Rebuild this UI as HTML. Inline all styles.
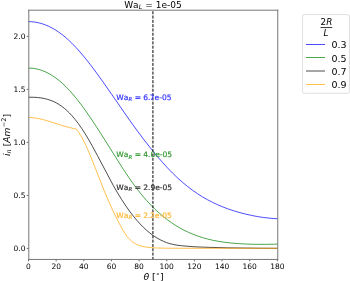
<!DOCTYPE html>
<html><head><meta charset="utf-8"><title>plot</title><style>
html,body{margin:0;padding:0;background:#fff;width:350px;height:281px;overflow:hidden}
svg{display:block}
</style></head><body>
<svg width="350" height="281" viewBox="0 0 350 281" version="1.1">
 <defs>
  <style type="text/css">*{stroke-linejoin: round; stroke-linecap: butt}</style>
 </defs>
 <g id="figure_1">
  <g id="patch_1">
   <path d="M 0 281 
L 350 281 
L 350 0 
L 0 0 
z
" style="fill: #ffffff"/>
  </g>
  <g id="axes_1">
   <g id="patch_2">
    <path d="M 28.5 259.5 
L 277.35 259.5 
L 277.35 10.35 
L 28.5 10.35 
z
" style="fill: #ffffff"/>
   </g>
   <g id="matplotlib.axis_1">
    <g id="xtick_1">
     <g id="line2d_1">
      <g>
       <path d="M 0 0 L 0 1.8" transform="translate(28.5 259.5)" style="stroke: #000000; stroke-width: 0.6"/>
      </g>
     </g>
     <g id="text_1">
      <text style="font-size: 7.5px; font-family: 'DejaVu Sans', sans-serif; text-anchor: middle" x="28.5" y="268.798828" transform="rotate(-0 28.5 268.798828)">0</text>
     </g>
    </g>
    <g id="xtick_2">
     <g id="line2d_2">
      <g>
       <path d="M 0 0 L 0 1.8" transform="translate(56.15 259.5)" style="stroke: #000000; stroke-width: 0.6"/>
      </g>
     </g>
     <g id="text_2">
      <text style="font-size: 7.5px; font-family: 'DejaVu Sans', sans-serif; text-anchor: middle" x="56.15" y="268.798828" transform="rotate(-0 56.15 268.798828)">20</text>
     </g>
    </g>
    <g id="xtick_3">
     <g id="line2d_3">
      <g>
       <path d="M 0 0 L 0 1.8" transform="translate(83.8 259.5)" style="stroke: #000000; stroke-width: 0.6"/>
      </g>
     </g>
     <g id="text_3">
      <text style="font-size: 7.5px; font-family: 'DejaVu Sans', sans-serif; text-anchor: middle" x="83.8" y="268.798828" transform="rotate(-0 83.8 268.798828)">40</text>
     </g>
    </g>
    <g id="xtick_4">
     <g id="line2d_4">
      <g>
       <path d="M 0 0 L 0 1.8" transform="translate(111.45 259.5)" style="stroke: #000000; stroke-width: 0.6"/>
      </g>
     </g>
     <g id="text_4">
      <text style="font-size: 7.5px; font-family: 'DejaVu Sans', sans-serif; text-anchor: middle" x="111.45" y="268.798828" transform="rotate(-0 111.45 268.798828)">60</text>
     </g>
    </g>
    <g id="xtick_5">
     <g id="line2d_5">
      <g>
       <path d="M 0 0 L 0 1.8" transform="translate(139.1 259.5)" style="stroke: #000000; stroke-width: 0.6"/>
      </g>
     </g>
     <g id="text_5">
      <text style="font-size: 7.5px; font-family: 'DejaVu Sans', sans-serif; text-anchor: middle" x="139.1" y="268.798828" transform="rotate(-0 139.1 268.798828)">80</text>
     </g>
    </g>
    <g id="xtick_6">
     <g id="line2d_6">
      <g>
       <path d="M 0 0 L 0 1.8" transform="translate(166.75 259.5)" style="stroke: #000000; stroke-width: 0.6"/>
      </g>
     </g>
     <g id="text_6">
      <text style="font-size: 7.5px; font-family: 'DejaVu Sans', sans-serif; text-anchor: middle" x="166.75" y="268.798828" transform="rotate(-0 166.75 268.798828)">100</text>
     </g>
    </g>
    <g id="xtick_7">
     <g id="line2d_7">
      <g>
       <path d="M 0 0 L 0 1.8" transform="translate(194.4 259.5)" style="stroke: #000000; stroke-width: 0.6"/>
      </g>
     </g>
     <g id="text_7">
      <text style="font-size: 7.5px; font-family: 'DejaVu Sans', sans-serif; text-anchor: middle" x="194.4" y="268.798828" transform="rotate(-0 194.4 268.798828)">120</text>
     </g>
    </g>
    <g id="xtick_8">
     <g id="line2d_8">
      <g>
       <path d="M 0 0 L 0 1.8" transform="translate(222.05 259.5)" style="stroke: #000000; stroke-width: 0.6"/>
      </g>
     </g>
     <g id="text_8">
      <text style="font-size: 7.5px; font-family: 'DejaVu Sans', sans-serif; text-anchor: middle" x="222.05" y="268.798828" transform="rotate(-0 222.05 268.798828)">140</text>
     </g>
    </g>
    <g id="xtick_9">
     <g id="line2d_9">
      <g>
       <path d="M 0 0 L 0 1.8" transform="translate(249.7 259.5)" style="stroke: #000000; stroke-width: 0.6"/>
      </g>
     </g>
     <g id="text_9">
      <text style="font-size: 7.5px; font-family: 'DejaVu Sans', sans-serif; text-anchor: middle" x="249.7" y="268.798828" transform="rotate(-0 249.7 268.798828)">160</text>
     </g>
    </g>
    <g id="xtick_10">
     <g id="line2d_10">
      <g>
       <path d="M 0 0 L 0 1.8" transform="translate(277.35 259.5)" style="stroke: #000000; stroke-width: 0.6"/>
      </g>
     </g>
     <g id="text_10">
      <text style="font-size: 7.5px; font-family: 'DejaVu Sans', sans-serif; text-anchor: middle" x="277.35" y="268.798828" transform="rotate(-0 277.35 268.798828)">180</text>
     </g>
    </g>
    <g id="text_11">
     <g transform="translate(143.4415 279.925141)">
      <text>
       <tspan x="0" y="-0.09375" style="font-style: oblique; font-size: 9.3px; font-family: 'DejaVu Sans', sans-serif">θ</tspan>
       <tspan x="5.659302" y="-0.09375" style="font-size: 9.3px; font-family: 'DejaVu Sans', sans-serif"> </tspan>
       <tspan x="8.599609" y="-0.09375" style="font-size: 9.3px; font-family: 'DejaVu Sans', sans-serif">[</tspan>
       <tspan x="16.593799" y="-0.09375" style="font-size: 9.3px; font-family: 'DejaVu Sans', sans-serif">]</tspan>
       <tspan x="12.294507" y="-3.539062" style="font-size: 6.51px; font-family: 'DejaVu Sans', sans-serif">∘</tspan>
      </text>
     </g>
    </g>
   </g>
   <g id="matplotlib.axis_2">
    <g id="ytick_1">
     <g id="line2d_11">
      <g>
       <path d="M 0 0 L -1.8 0" transform="translate(28.5 248.4)" style="stroke: #000000; stroke-width: 0.6"/>
      </g>
     </g>
     <g id="text_12">
      <text style="font-size: 7.5px; font-family: 'DejaVu Sans', sans-serif; text-anchor: end" x="25.5" y="251.249414" transform="rotate(-0 25.5 251.249414)">0.0</text>
     </g>
    </g>
    <g id="ytick_2">
     <g id="line2d_12">
      <g>
       <path d="M 0 0 L -1.8 0" transform="translate(28.5 195.4)" style="stroke: #000000; stroke-width: 0.6"/>
      </g>
     </g>
     <g id="text_13">
      <text style="font-size: 7.5px; font-family: 'DejaVu Sans', sans-serif; text-anchor: end" x="25.5" y="198.249414" transform="rotate(-0 25.5 198.249414)">0.5</text>
     </g>
    </g>
    <g id="ytick_3">
     <g id="line2d_13">
      <g>
       <path d="M 0 0 L -1.8 0" transform="translate(28.5 142.4)" style="stroke: #000000; stroke-width: 0.6"/>
      </g>
     </g>
     <g id="text_14">
      <text style="font-size: 7.5px; font-family: 'DejaVu Sans', sans-serif; text-anchor: end" x="25.5" y="145.249414" transform="rotate(-0 25.5 145.249414)">1.0</text>
     </g>
    </g>
    <g id="ytick_4">
     <g id="line2d_14">
      <g>
       <path d="M 0 0 L -1.8 0" transform="translate(28.5 89.4)" style="stroke: #000000; stroke-width: 0.6"/>
      </g>
     </g>
     <g id="text_15">
      <text style="font-size: 7.5px; font-family: 'DejaVu Sans', sans-serif; text-anchor: end" x="25.5" y="92.249414" transform="rotate(-0 25.5 92.249414)">1.5</text>
     </g>
    </g>
    <g id="ytick_5">
     <g id="line2d_15">
      <g>
       <path d="M 0 0 L -1.8 0" transform="translate(28.5 36.4)" style="stroke: #000000; stroke-width: 0.6"/>
      </g>
     </g>
     <g id="text_16">
      <text style="font-size: 7.5px; font-family: 'DejaVu Sans', sans-serif; text-anchor: end" x="25.5" y="39.249414" transform="rotate(-0 25.5 39.249414)">2.0</text>
     </g>
    </g>
    <g id="text_17">
     <g transform="translate(10.569742 156.0615) rotate(-90)">
      <text>
       <tspan x="0" y="-0.873438" style="font-style: oblique; font-size: 9.15px; font-family: 'DejaVu Sans', sans-serif">i</tspan>
       <tspan x="13.29021" y="-0.873438" style="font-style: oblique; font-size: 9.15px; font-family: 'DejaVu Sans', sans-serif">A</tspan>
       <tspan x="19.532458" y="-0.873438" style="font-style: oblique; font-size: 9.15px; font-family: 'DejaVu Sans', sans-serif">m</tspan>
       <tspan x="2.535217" y="0.603125" style="font-style: oblique; font-size: 6.405px; font-family: 'DejaVu Sans', sans-serif">n</tspan>
       <tspan x="6.829639" y="-0.873438" style="font-size: 9.15px; font-family: 'DejaVu Sans', sans-serif"> </tspan>
       <tspan x="9.730212" y="-0.873438" style="font-size: 9.15px; font-family: 'DejaVu Sans', sans-serif">[</tspan>
       <tspan x="38.502809" y="-0.873438" style="font-size: 9.15px; font-family: 'DejaVu Sans', sans-serif">]</tspan>
       <tspan x="28.840767" y="-4.31875" style="font-size: 6.405px; font-family: 'DejaVu Sans', sans-serif">−</tspan>
       <tspan x="34.192793" y="-4.31875" style="font-size: 6.405px; font-family: 'DejaVu Sans', sans-serif">2</tspan>
      </text>
     </g>
    </g>
   </g>
   <g id="line2d_16">
    <path d="M 28.5 21.596963 
L 31.829097 21.730867 
L 35.158194 22.118475 
L 38.487291 22.759832 
L 41.816388 23.654984 
L 45.145485 24.803977 
L 48.474582 26.206855 
L 51.803679 27.863663 
L 55.132776 29.774447 
L 58.461873 31.939252 
L 61.79097 34.358124 
L 65.120067 37.031107 
L 68.449164 39.95824 
L 71.778261 43.135246 
L 75.939632 47.433498 
L 80.101003 52.062659 
L 85.094649 58.005544 
L 90.088294 64.314897 
L 95.914214 72.058905 
L 102.572408 81.297674 
L 111.727425 94.425904 
L 130.037458 120.783913 
L 137.527926 131.138417 
L 144.18612 140.013574 
L 150.844314 148.523192 
L 156.670234 155.626961 
L 162.496154 162.373637 
L 167.489799 167.844969 
L 172.483445 173.004773 
L 177.47709 177.830357 
L 182.470736 182.300733 
L 187.464381 186.41726 
L 192.458027 190.196981 
L 197.451672 193.657265 
L 202.445318 196.815479 
L 207.438963 199.688991 
L 212.432609 202.295168 
L 217.426254 204.651379 
L 222.4199 206.774991 
L 227.413545 208.683373 
L 233.239465 210.660961 
L 239.065385 212.396816 
L 244.891304 213.918516 
L 251.549498 215.424161 
L 257.375418 216.53402 
L 263.201338 217.438122 
L 269.027258 218.124986 
L 274.853177 218.583129 
L 277.35 218.706615 
L 277.35 218.706615 
" clip-path="url(#p7473f6692e)" style="fill: none; stroke: #0000ff; stroke-opacity: 0.7; stroke-linecap: square"/>
   </g>
   <g id="line2d_17">
    <path d="M 28.5 68.100256 
L 30.996823 68.166046 
L 33.493645 68.402365 
L 35.990468 68.808669 
L 39.319565 69.613882 
L 42.648662 70.719028 
L 45.977759 72.122812 
L 49.306856 73.823942 
L 52.635953 75.821126 
L 55.96505 78.113072 
L 59.294147 80.698487 
L 62.623244 83.576078 
L 65.952341 86.744553 
L 69.281438 90.201903 
L 72.610535 93.935177 
L 76.771906 98.957039 
L 80.933278 104.33408 
L 85.926923 111.195677 
L 90.920569 118.434432 
L 96.746488 127.258604 
L 104.236957 139.024575 
L 123.379264 169.381782 
L 129.205184 178.088872 
L 134.198829 185.140114 
L 138.360201 190.651292 
L 142.521572 195.803224 
L 146.682943 200.60677 
L 150.844314 205.074512 
L 155.005686 209.219032 
L 159.167057 213.052911 
L 163.328428 216.588732 
L 167.489799 219.839076 
L 171.651171 222.816526 
L 175.812542 225.533664 
L 179.973913 228.003071 
L 184.135284 230.23733 
L 188.296656 232.249023 
L 192.458027 234.050731 
L 197.451672 235.953317 
L 202.445318 237.593385 
L 207.438963 238.992676 
L 212.432609 240.172934 
L 218.258528 241.302071 
L 224.084448 242.197196 
L 230.742642 242.977938 
L 238.23311 243.608577 
L 246.555853 244.063499 
L 254.878595 244.297386 
L 264.033612 244.3432 
L 274.853177 244.176669 
L 277.35 244.112222 
L 277.35 244.112222 
" clip-path="url(#p7473f6692e)" style="fill: none; stroke: #008000; stroke-opacity: 0.7; stroke-linecap: square"/>
   </g>
   <g id="line2d_18">
    <path d="M 28.5 97.219784 
L 33.493645 97.261166 
L 37.655017 97.518947 
L 40.984114 97.916954 
L 44.313211 98.52058 
L 47.642308 99.362269 
L 50.971405 100.474463 
L 54.300502 101.889607 
L 56.797324 103.169291 
L 59.294147 104.65132 
L 61.79097 106.349382 
L 64.287793 108.277162 
L 66.784615 110.447324 
L 69.281438 112.86248 
L 71.778261 115.519544 
L 75.107358 119.433156 
L 78.436455 123.763763 
L 81.765552 128.503899 
L 85.094649 133.646098 
L 88.423746 139.1757 
L 92.585117 146.538526 
L 97.578763 155.833605 
L 113.391973 185.674621 
L 117.553344 192.903615 
L 121.714716 199.671087 
L 125.876087 205.972448 
L 130.037458 211.804294 
L 133.366555 216.129431 
L 136.695652 220.150158 
L 140.024749 223.864729 
L 143.353846 227.271402 
L 146.682943 230.368435 
L 150.01204 233.154084 
L 153.341137 235.626623 
L 156.670234 237.7903 
L 159.999331 239.664181 
L 163.328428 241.269592 
L 166.657525 242.627857 
L 169.986622 243.760301 
L 170.818896 243.846531 
L 174.147993 244.642002 
L 177.47709 245.243542 
L 181.638462 245.755239 
L 194.122575 246.773177 
L 203.277592 247.162781 
L 227.413545 247.849283 
L 258.207692 248.199149 
L 277.35 248.302864 
L 277.35 248.302864 
" clip-path="url(#p7473f6692e)" style="fill: none; stroke: #000000; stroke-opacity: 0.7; stroke-linecap: square"/>
   </g>
   <g id="line2d_19">
    <path d="M 28.5 117.558346 
L 31.733898 117.653445 
L 34.967797 117.978261 
L 38.201695 118.502228 
L 42.244068 119.389911 
L 47.094915 120.716359 
L 53.562712 122.756078 
L 64.881356 126.373404 
L 69.732203 127.670461 
L 73.774576 128.52403 
L 76.2 128.909795 
L 77.208271 130.308535 
L 78.720677 132.325116 
L 80.737218 135.462119 
L 82.753759 139.057867 
L 85.274436 144.108725 
L 87.795113 149.671129 
L 90.819925 156.860709 
L 95.357143 168.287372 
L 104.431579 191.288237 
L 108.464662 200.918797 
L 111.993609 208.784963 
L 115.522556 216.091341 
L 119.555639 223.944891 
L 122.580451 229.474039 
L 125.101128 233.61218 
L 127.117669 236.473231 
L 128.630075 238.299203 
L 130.646617 240.333173 
L 132.663158 241.983553 
L 134.679699 243.331444 
L 136.696241 244.437146 
L 138.712782 245.30055 
L 141.233459 246.113708 
L 144.258271 246.80408 
L 147.787218 247.339181 
L 151.820301 247.720694 
L 157.365789 248.011082 
L 165.93609 248.201408 
L 182.068421 248.286971 
L 260.209398 248.299999 
L 277.35 248.3 
L 277.35 248.3 
" clip-path="url(#p7473f6692e)" style="fill: none; stroke: #ffa500; stroke-opacity: 0.7; stroke-linecap: square"/>
   </g>
   <g id="line2d_20">
    <path d="M 152.925 259.5 
L 152.925 10.35 
" clip-path="url(#p7473f6692e)" style="fill: none; stroke-dasharray: 3.01,1.3; stroke-dashoffset: 0.4; stroke: #000000"/>
   </g>
   <g id="text_18">
    <g style="fill: #3333ff" transform="translate(116.3 99.9)">
     <text>
      <tspan x="0" y="-0.0625" style="font-size: 7.55px; font-family: 'DejaVu Sans', sans-serif; fill: #3333ff; stroke: #3333ff; stroke-width: 0.2; stroke-linejoin: round">W</tspan>
      <tspan x="7.415771" y="-0.0625" style="font-size: 7.55px; font-family: 'DejaVu Sans', sans-serif; fill: #3333ff; stroke: #3333ff; stroke-width: 0.2; stroke-linejoin: round">a</tspan>
      <tspan x="15.954858" y="-0.0625" style="font-size: 7.55px; font-family: 'DejaVu Sans', sans-serif; fill: #3333ff; stroke: #3333ff; stroke-width: 0.2; stroke-linejoin: round"> </tspan>
      <tspan x="18.338892" y="-0.0625" style="font-size: 7.55px; font-family: 'DejaVu Sans', sans-serif; fill: #3333ff; stroke: #3333ff; stroke-width: 0.2; stroke-linejoin: round">=</tspan>
      <tspan x="24.623071" y="-0.0625" style="font-size: 7.55px; font-family: 'DejaVu Sans', sans-serif; fill: #3333ff; stroke: #3333ff; stroke-width: 0.2; stroke-linejoin: round"> </tspan>
      <tspan x="27.007104" y="-0.0625" style="font-size: 7.55px; font-family: 'DejaVu Sans', sans-serif; fill: #3333ff; stroke: #3333ff; stroke-width: 0.2; stroke-linejoin: round">6</tspan>
      <tspan x="31.778833" y="-0.0625" style="font-size: 7.55px; font-family: 'DejaVu Sans', sans-serif; fill: #3333ff; stroke: #3333ff; stroke-width: 0.2; stroke-linejoin: round">.</tspan>
      <tspan x="33.537866" y="-0.0625" style="font-size: 7.55px; font-family: 'DejaVu Sans', sans-serif; fill: #3333ff; stroke: #3333ff; stroke-width: 0.2; stroke-linejoin: round">7</tspan>
      <tspan x="38.309595" y="-0.0625" style="font-size: 7.55px; font-family: 'DejaVu Sans', sans-serif; fill: #3333ff; stroke: #3333ff; stroke-width: 0.2; stroke-linejoin: round">e</tspan>
      <tspan x="42.923853" y="-0.0625" style="font-size: 7.55px; font-family: 'DejaVu Sans', sans-serif; fill: #3333ff; stroke: #3333ff; stroke-width: 0.2; stroke-linejoin: round">-</tspan>
      <tspan x="45.630151" y="-0.0625" style="font-size: 7.55px; font-family: 'DejaVu Sans', sans-serif; fill: #3333ff; stroke: #3333ff; stroke-width: 0.2; stroke-linejoin: round">0</tspan>
      <tspan x="50.40188" y="-0.0625" style="font-size: 7.55px; font-family: 'DejaVu Sans', sans-serif; fill: #3333ff; stroke: #3333ff; stroke-width: 0.2; stroke-linejoin: round">5</tspan>
      <tspan x="12.088281" y="1.25" style="font-style: oblique; font-size: 5.285px; font-family: 'DejaVu Sans', sans-serif; fill: #3333ff; stroke: #3333ff; stroke-width: 0.2; stroke-linejoin: round">R</tspan>
     </text>
    </g>
   </g>
   <g id="text_19">
    <g style="fill: #339933" transform="translate(116.3 157.3)">
     <text>
      <tspan x="0" y="-0.0625" style="font-size: 7.55px; font-family: 'DejaVu Sans', sans-serif; fill: #339933; stroke: #339933; stroke-width: 0.2; stroke-linejoin: round">W</tspan>
      <tspan x="7.415771" y="-0.0625" style="font-size: 7.55px; font-family: 'DejaVu Sans', sans-serif; fill: #339933; stroke: #339933; stroke-width: 0.2; stroke-linejoin: round">a</tspan>
      <tspan x="15.954858" y="-0.0625" style="font-size: 7.55px; font-family: 'DejaVu Sans', sans-serif; fill: #339933; stroke: #339933; stroke-width: 0.2; stroke-linejoin: round"> </tspan>
      <tspan x="18.338892" y="-0.0625" style="font-size: 7.55px; font-family: 'DejaVu Sans', sans-serif; fill: #339933; stroke: #339933; stroke-width: 0.2; stroke-linejoin: round">=</tspan>
      <tspan x="24.623071" y="-0.0625" style="font-size: 7.55px; font-family: 'DejaVu Sans', sans-serif; fill: #339933; stroke: #339933; stroke-width: 0.2; stroke-linejoin: round"> </tspan>
      <tspan x="27.007104" y="-0.0625" style="font-size: 7.55px; font-family: 'DejaVu Sans', sans-serif; fill: #339933; stroke: #339933; stroke-width: 0.2; stroke-linejoin: round">4</tspan>
      <tspan x="31.778833" y="-0.0625" style="font-size: 7.55px; font-family: 'DejaVu Sans', sans-serif; fill: #339933; stroke: #339933; stroke-width: 0.2; stroke-linejoin: round">.</tspan>
      <tspan x="34.162866" y="-0.0625" style="font-size: 7.55px; font-family: 'DejaVu Sans', sans-serif; fill: #339933; stroke: #339933; stroke-width: 0.2; stroke-linejoin: round">0</tspan>
      <tspan x="38.934595" y="-0.0625" style="font-size: 7.55px; font-family: 'DejaVu Sans', sans-serif; fill: #339933; stroke: #339933; stroke-width: 0.2; stroke-linejoin: round">e</tspan>
      <tspan x="43.548853" y="-0.0625" style="font-size: 7.55px; font-family: 'DejaVu Sans', sans-serif; fill: #339933; stroke: #339933; stroke-width: 0.2; stroke-linejoin: round">-</tspan>
      <tspan x="46.255151" y="-0.0625" style="font-size: 7.55px; font-family: 'DejaVu Sans', sans-serif; fill: #339933; stroke: #339933; stroke-width: 0.2; stroke-linejoin: round">0</tspan>
      <tspan x="51.02688" y="-0.0625" style="font-size: 7.55px; font-family: 'DejaVu Sans', sans-serif; fill: #339933; stroke: #339933; stroke-width: 0.2; stroke-linejoin: round">5</tspan>
      <tspan x="12.088281" y="1.25" style="font-style: oblique; font-size: 5.285px; font-family: 'DejaVu Sans', sans-serif; fill: #339933; stroke: #339933; stroke-width: 0.2; stroke-linejoin: round">R</tspan>
     </text>
    </g>
   </g>
   <g id="text_20">
    <g style="fill: #333333" transform="translate(116.3 189.6)">
     <text>
      <tspan x="0" y="-0.0625" style="font-size: 7.55px; font-family: 'DejaVu Sans', sans-serif; fill: #333333; stroke: #333333; stroke-width: 0.2; stroke-linejoin: round">W</tspan>
      <tspan x="7.415771" y="-0.0625" style="font-size: 7.55px; font-family: 'DejaVu Sans', sans-serif; fill: #333333; stroke: #333333; stroke-width: 0.2; stroke-linejoin: round">a</tspan>
      <tspan x="15.954858" y="-0.0625" style="font-size: 7.55px; font-family: 'DejaVu Sans', sans-serif; fill: #333333; stroke: #333333; stroke-width: 0.2; stroke-linejoin: round"> </tspan>
      <tspan x="18.338892" y="-0.0625" style="font-size: 7.55px; font-family: 'DejaVu Sans', sans-serif; fill: #333333; stroke: #333333; stroke-width: 0.2; stroke-linejoin: round">=</tspan>
      <tspan x="24.623071" y="-0.0625" style="font-size: 7.55px; font-family: 'DejaVu Sans', sans-serif; fill: #333333; stroke: #333333; stroke-width: 0.2; stroke-linejoin: round"> </tspan>
      <tspan x="27.007104" y="-0.0625" style="font-size: 7.55px; font-family: 'DejaVu Sans', sans-serif; fill: #333333; stroke: #333333; stroke-width: 0.2; stroke-linejoin: round">2</tspan>
      <tspan x="31.778833" y="-0.0625" style="font-size: 7.55px; font-family: 'DejaVu Sans', sans-serif; fill: #333333; stroke: #333333; stroke-width: 0.2; stroke-linejoin: round">.</tspan>
      <tspan x="34.162866" y="-0.0625" style="font-size: 7.55px; font-family: 'DejaVu Sans', sans-serif; fill: #333333; stroke: #333333; stroke-width: 0.2; stroke-linejoin: round">9</tspan>
      <tspan x="38.934595" y="-0.0625" style="font-size: 7.55px; font-family: 'DejaVu Sans', sans-serif; fill: #333333; stroke: #333333; stroke-width: 0.2; stroke-linejoin: round">e</tspan>
      <tspan x="43.548853" y="-0.0625" style="font-size: 7.55px; font-family: 'DejaVu Sans', sans-serif; fill: #333333; stroke: #333333; stroke-width: 0.2; stroke-linejoin: round">-</tspan>
      <tspan x="46.255151" y="-0.0625" style="font-size: 7.55px; font-family: 'DejaVu Sans', sans-serif; fill: #333333; stroke: #333333; stroke-width: 0.2; stroke-linejoin: round">0</tspan>
      <tspan x="51.02688" y="-0.0625" style="font-size: 7.55px; font-family: 'DejaVu Sans', sans-serif; fill: #333333; stroke: #333333; stroke-width: 0.2; stroke-linejoin: round">5</tspan>
      <tspan x="12.088281" y="1.25" style="font-style: oblique; font-size: 5.285px; font-family: 'DejaVu Sans', sans-serif; fill: #333333; stroke: #333333; stroke-width: 0.2; stroke-linejoin: round">R</tspan>
     </text>
    </g>
   </g>
   <g id="text_21">
    <g style="fill: #ffb733" transform="translate(116.3 218)">
     <text>
      <tspan x="0" y="-0.0625" style="font-size: 7.55px; font-family: 'DejaVu Sans', sans-serif; fill: #ffb733; stroke: #ffb733; stroke-width: 0.2; stroke-linejoin: round">W</tspan>
      <tspan x="7.415771" y="-0.0625" style="font-size: 7.55px; font-family: 'DejaVu Sans', sans-serif; fill: #ffb733; stroke: #ffb733; stroke-width: 0.2; stroke-linejoin: round">a</tspan>
      <tspan x="15.954858" y="-0.0625" style="font-size: 7.55px; font-family: 'DejaVu Sans', sans-serif; fill: #ffb733; stroke: #ffb733; stroke-width: 0.2; stroke-linejoin: round"> </tspan>
      <tspan x="18.338892" y="-0.0625" style="font-size: 7.55px; font-family: 'DejaVu Sans', sans-serif; fill: #ffb733; stroke: #ffb733; stroke-width: 0.2; stroke-linejoin: round">=</tspan>
      <tspan x="24.623071" y="-0.0625" style="font-size: 7.55px; font-family: 'DejaVu Sans', sans-serif; fill: #ffb733; stroke: #ffb733; stroke-width: 0.2; stroke-linejoin: round"> </tspan>
      <tspan x="27.007104" y="-0.0625" style="font-size: 7.55px; font-family: 'DejaVu Sans', sans-serif; fill: #ffb733; stroke: #ffb733; stroke-width: 0.2; stroke-linejoin: round">2</tspan>
      <tspan x="31.778833" y="-0.0625" style="font-size: 7.55px; font-family: 'DejaVu Sans', sans-serif; fill: #ffb733; stroke: #ffb733; stroke-width: 0.2; stroke-linejoin: round">.</tspan>
      <tspan x="33.787866" y="-0.0625" style="font-size: 7.55px; font-family: 'DejaVu Sans', sans-serif; fill: #ffb733; stroke: #ffb733; stroke-width: 0.2; stroke-linejoin: round">2</tspan>
      <tspan x="38.559595" y="-0.0625" style="font-size: 7.55px; font-family: 'DejaVu Sans', sans-serif; fill: #ffb733; stroke: #ffb733; stroke-width: 0.2; stroke-linejoin: round">e</tspan>
      <tspan x="43.173853" y="-0.0625" style="font-size: 7.55px; font-family: 'DejaVu Sans', sans-serif; fill: #ffb733; stroke: #ffb733; stroke-width: 0.2; stroke-linejoin: round">-</tspan>
      <tspan x="45.880151" y="-0.0625" style="font-size: 7.55px; font-family: 'DejaVu Sans', sans-serif; fill: #ffb733; stroke: #ffb733; stroke-width: 0.2; stroke-linejoin: round">0</tspan>
      <tspan x="50.65188" y="-0.0625" style="font-size: 7.55px; font-family: 'DejaVu Sans', sans-serif; fill: #ffb733; stroke: #ffb733; stroke-width: 0.2; stroke-linejoin: round">5</tspan>
      <tspan x="12.088281" y="1.25" style="font-style: oblique; font-size: 5.285px; font-family: 'DejaVu Sans', sans-serif; fill: #ffb733; stroke: #ffb733; stroke-width: 0.2; stroke-linejoin: round">R</tspan>
     </text>
    </g>
   </g>
   <g id="text_22">
    <g transform="translate(124.17 7.95)">
     <text>
      <tspan x="0" y="-0.3125" style="font-size: 9px; font-family: 'DejaVu Sans', sans-serif">W</tspan>
      <tspan x="8.898926" y="-0.3125" style="font-size: 9px; font-family: 'DejaVu Sans', sans-serif">a</tspan>
      <tspan x="18.256201" y="-0.3125" style="font-size: 9px; font-family: 'DejaVu Sans', sans-serif"> </tspan>
      <tspan x="21.117041" y="-0.3125" style="font-size: 9px; font-family: 'DejaVu Sans', sans-serif">=</tspan>
      <tspan x="28.658057" y="-0.3125" style="font-size: 9px; font-family: 'DejaVu Sans', sans-serif"> </tspan>
      <tspan x="31.518896" y="-0.3125" style="font-size: 9px; font-family: 'DejaVu Sans', sans-serif">1</tspan>
      <tspan x="37.244971" y="-0.3125" style="font-size: 9px; font-family: 'DejaVu Sans', sans-serif">e</tspan>
      <tspan x="42.78208" y="-0.3125" style="font-size: 9px; font-family: 'DejaVu Sans', sans-serif">-</tspan>
      <tspan x="46.029639" y="-0.3125" style="font-size: 9px; font-family: 'DejaVu Sans', sans-serif">0</tspan>
      <tspan x="51.755713" y="-0.3125" style="font-size: 9px; font-family: 'DejaVu Sans', sans-serif">5</tspan>
      <tspan x="14.500195" y="1.164062" style="font-style: oblique; font-size: 6.3px; font-family: 'DejaVu Sans', sans-serif">L</tspan>
     </text>
    </g>
   </g>
  </g>
  <g id="patch_3">
   <path d="M 304.2 93.3 
L 347.9 93.3 
Q 349.5 93.3 349.5 91.7 
L 349.5 16.2 
Q 349.5 14.6 347.9 14.6 
L 304.2 14.6 
Q 302.6 14.6 302.6 16.2 
L 302.6 91.7 
Q 302.6 93.3 304.2 93.3 
z
" style="fill: #ffffff; fill-opacity: 0.8; stroke: #cccccc; stroke-opacity: 0.8; stroke-width: 0.75; stroke-linejoin: miter"/>
  </g>
  <g id="line2d_21">
   <path d="M 306.5 44.5 
L 324.5 44.5 
" style="fill: none; stroke: #0000ff; stroke-opacity: 0.7; stroke-linecap: square"/>
  </g>
  <g id="line2d_22">
   <path d="M 306.5 57.5 
L 324.5 57.5 
" style="fill: none; stroke: #008000; stroke-opacity: 0.7; stroke-linecap: square"/>
  </g>
  <g id="line2d_23">
   <path d="M 306.5 71 
L 324.5 71 
" style="fill: none; stroke: #000000; stroke-opacity: 0.7; stroke-linecap: square"/>
  </g>
  <g id="line2d_24">
   <path d="M 306.5 84.5 
L 324.5 84.5 
" style="fill: none; stroke: #ffa500; stroke-opacity: 0.7; stroke-linecap: square"/>
  </g>
  <g id="text_23">
   <text style="font-size: 9.5px; font-family: 'DejaVu Sans', sans-serif; text-anchor: start" x="331.473" y="48.25" transform="rotate(-0 331.473 48.25)">0.3</text>
  </g>
  <g id="text_24">
   <text style="font-size: 9.5px; font-family: 'DejaVu Sans', sans-serif; text-anchor: start" x="331.473" y="61.65" transform="rotate(-0 331.473 61.65)">0.5</text>
  </g>
  <g id="text_25">
   <text style="font-size: 9.5px; font-family: 'DejaVu Sans', sans-serif; text-anchor: start" x="331.473" y="74.95" transform="rotate(-0 331.473 74.95)">0.7</text>
  </g>
  <g id="text_26">
   <text style="font-size: 9.5px; font-family: 'DejaVu Sans', sans-serif; text-anchor: start" x="331.473" y="88.45" transform="rotate(-0 331.473 88.45)">0.9</text>
  </g>
  <g id="text_27">
   <g transform="translate(320.522 31.348)">
    <text>
     <tspan x="0" y="-6.240625" style="font-size: 8.82px; font-family: 'DejaVu Sans', sans-serif">2</tspan>
     <tspan x="3" y="4.335938" style="font-style: oblique; font-size: 8.82px; font-family: 'DejaVu Sans', sans-serif">L</tspan>
     <tspan x="5.622687" y="-6.240625" style="font-style: oblique; font-size: 8.82px; font-family: 'DejaVu Sans', sans-serif">R</tspan>
    </text>
    <rect x="0" y="-4.090625" width="11.763196" height="0.7875"/>
   </g>
  </g>
  <g id="line2d_25">
   <path d="M 28.8 10.2 
L 28.8 259.45 
" style="fill: none; stroke: #777777; stroke-linecap: square"/>
  </g>
  <g id="line2d_26">
   <path d="M 277.75 10.2 
L 277.75 259.45 
" style="fill: none; stroke: #777777; stroke-linecap: square"/>
  </g>
  <g id="line2d_27">
   <path d="M 28.8 10.2 
L 277.75 10.2 
" style="fill: none; stroke: #777777; stroke-linecap: square"/>
  </g>
  <g id="line2d_28">
   <path d="M 28.8 259.45 
L 277.75 259.45 
" style="fill: none; stroke: #777777; stroke-linecap: square"/>
  </g>
 </g>
 <defs>
  <clipPath id="p7473f6692e">
   <rect x="28.5" y="10.35" width="248.85" height="249.15"/>
  </clipPath>
 </defs>
</svg>
</body></html>
